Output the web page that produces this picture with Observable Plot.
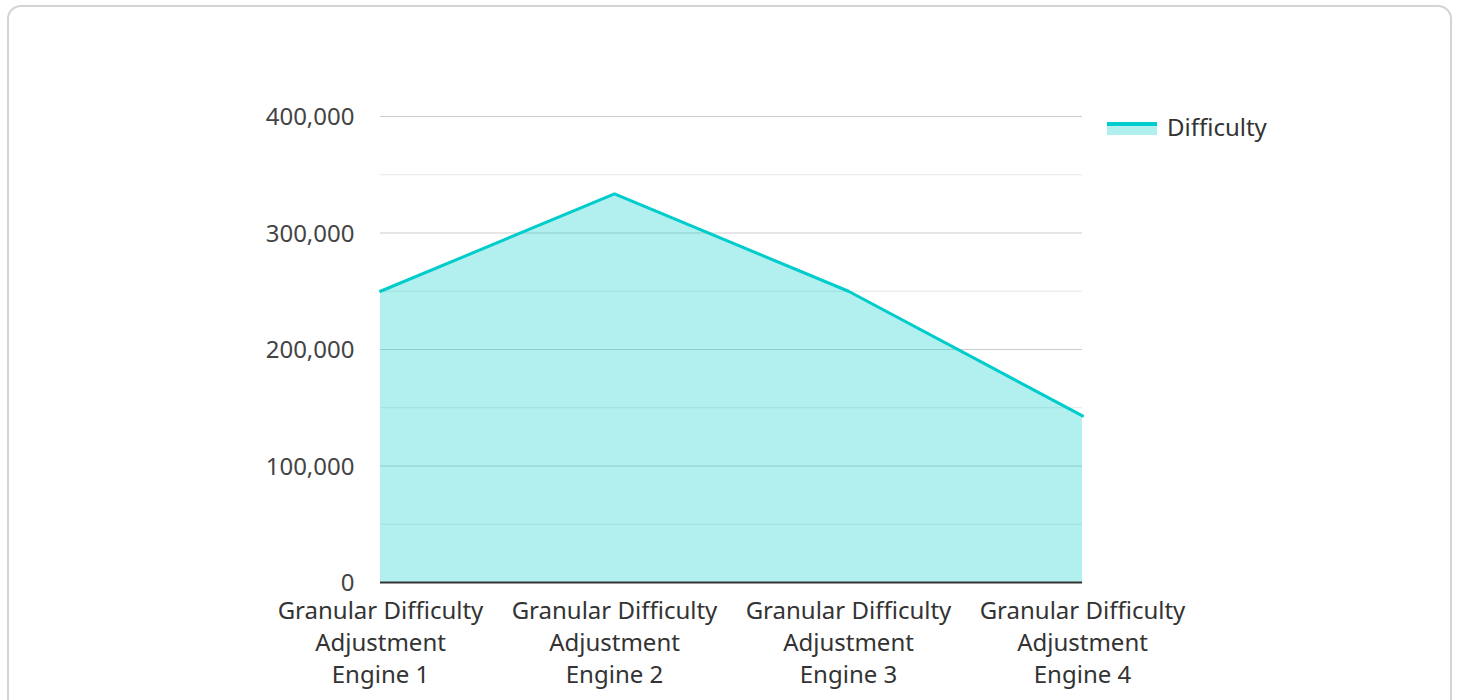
<!DOCTYPE html>
<html>
<head>
<meta charset="utf-8">
<script src="https://cdn.jsdelivr.net/npm/d3@7"></script>
<script src="https://cdn.jsdelivr.net/npm/@observablehq/plot@0.6"></script>
<style>
  html, body { margin: 0; padding: 0; background: #fff; width: 1458px; height: 700px; overflow: hidden; font-family: "Noto Sans", sans-serif; }
  #card { position: absolute; left: 7px; top: 5px; width: 1445px; height: 720px; border: 2px solid #d4d4d4; border-radius: 14px; box-sizing: border-box; }
  #chart { position: absolute; left: 0; top: 0; }
  #legend { position: absolute; left: 1107px; top: 110px; display: flex; align-items: center; font-size: 24px; color: #333; }
  #legend .sw { width: 50px; height: 16px; margin-right: 10px; position: relative; }
  #legend .sw .fill { position: absolute; left: 0; top: 5px; width: 50px; height: 11px; background: rgba(0,204,204,0.3); }
  #legend .sw .ln { position: absolute; left: 0; top: 3px; width: 50px; height: 4px; background: #00cccc; }
</style>
</head>
<body>
<div id="card"></div>
<div id="chart"></div>
<div id="legend"><div class="sw"><div class="fill"></div><div class="ln"></div></div><span id="legendLabel"></span></div>
<script>
const categories = [
  "Granular Difficulty Adjustment Engine 1",
  "Granular Difficulty Adjustment Engine 2",
  "Granular Difficulty Adjustment Engine 3",
  "Granular Difficulty Adjustment Engine 4"
];
const difficulty = [250000, 333500, 250000, 143000];
const seriesName = "Difficulty";
const majorTicks = [0, 100000, 200000, 300000, 400000];
const minorTicks = [50000, 150000, 250000, 350000];

document.getElementById("legendLabel").textContent = seriesName;

const data = categories.map((c, i) => ({category: c, value: difficulty[i]}));

const wrap = (s) => s.replace(" Adjustment ", "\nAdjustment\n");

const chart = Plot.plot({
  width: 1458,
  height: 700,
  marginLeft: 380,
  marginRight: 376,
  marginTop: 116,
  marginBottom: 118,
  style: {fontFamily: "Noto Sans, sans-serif", background: "transparent", overflow: "visible"},
  x: {type: "point", domain: categories, padding: 0},
  y: {domain: [0, 400000]},
  marks: [
    Plot.ruleY(minorTicks, {stroke: "#e6e6e6", strokeWidth: 1}),
    Plot.ruleY(majorTicks.filter(d => d > 0), {stroke: "#cccccc", strokeWidth: 1}),
    Plot.areaY(data, {x: "category", y: "value", fill: "#00cccc", fillOpacity: 0.3, curve: "linear"}),
    Plot.lineY(data, {x: "category", y: "value", stroke: "#00cccc", strokeWidth: 3, curve: "linear"}),
    Plot.ruleY([0], {stroke: "#333333", strokeWidth: 2}),
    Plot.axisY({ticks: majorTicks, tickSize: 0, tickPadding: 26, dy: 1, tickFormat: d3.format(","), fontSize: 24, fill: "#444", label: null}),
    Plot.axisX({tickSize: 0, tickPadding: 13, tickFormat: wrap, fontSize: 24, fill: "#333", lineHeight: 1.35, label: null})
  ]
});
document.getElementById("chart").appendChild(chart);
</script>
</body>
</html>
